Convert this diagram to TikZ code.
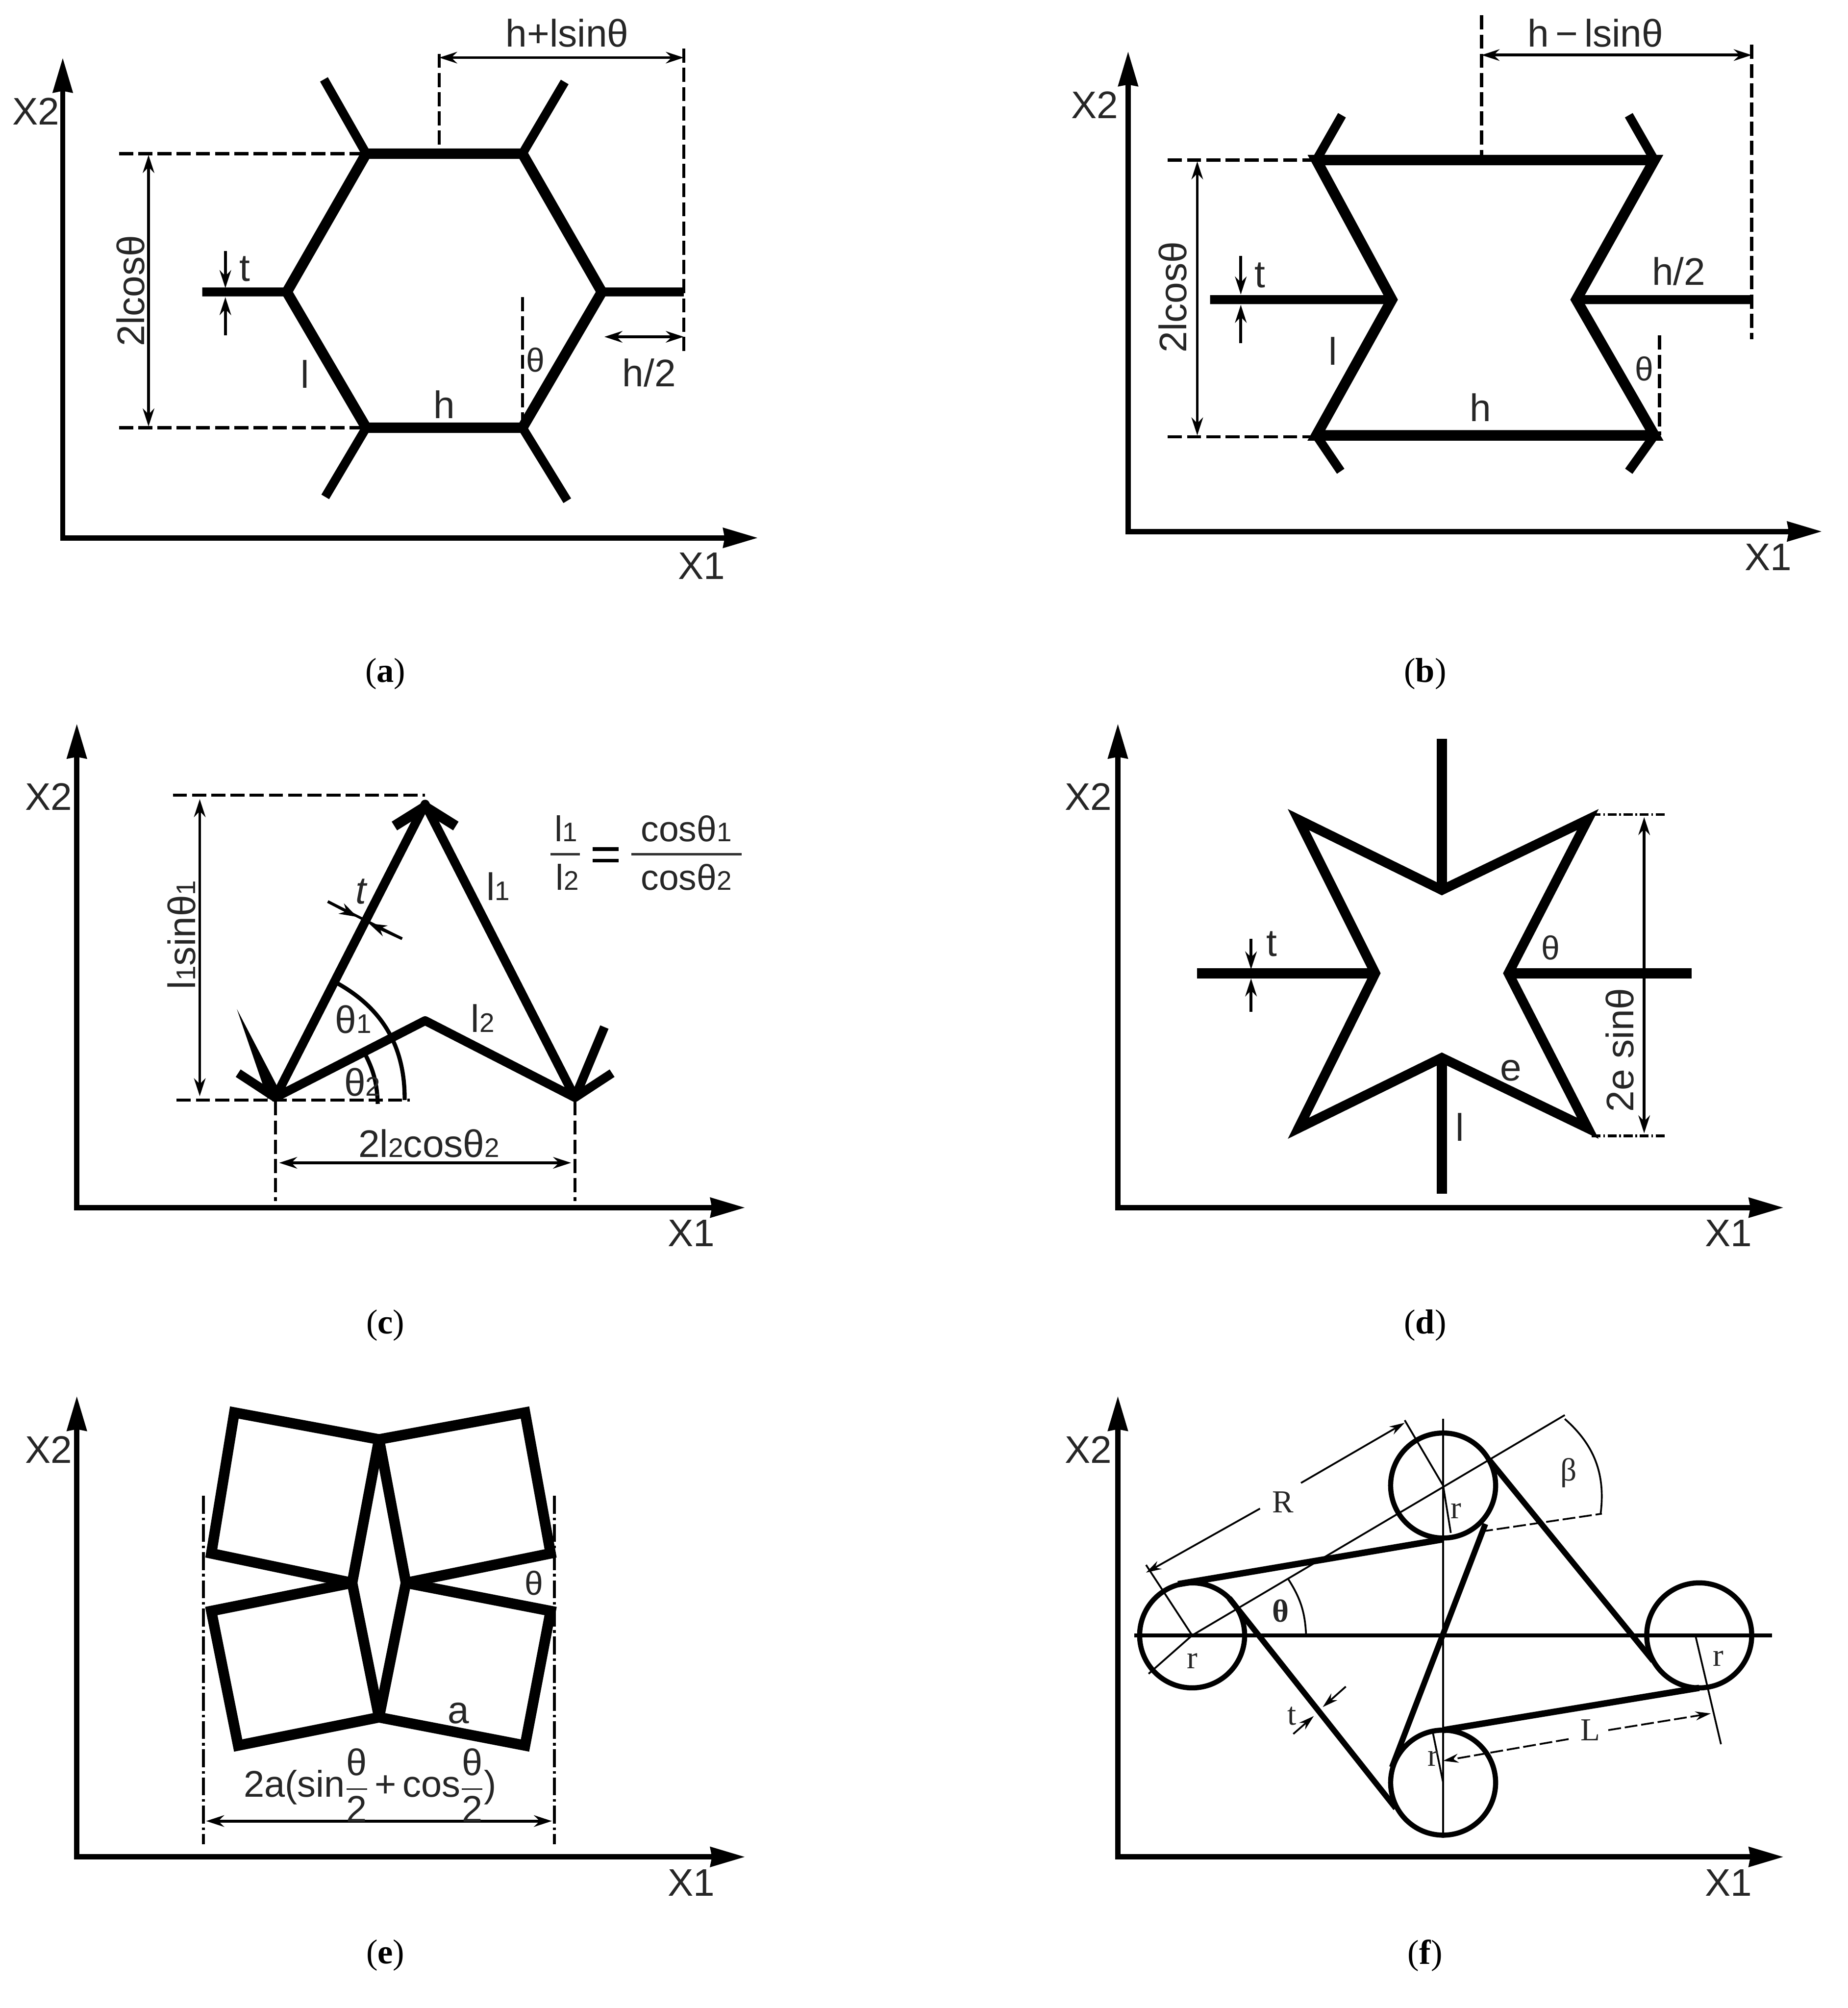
\documentclass[tikz,border=0pt]{standalone}
\usepackage{fontspec}
\setmainfont{Liberation Sans}
\newfontfamily\capfont{Liberation Serif}
\usetikzlibrary{arrows.meta}
\newcommand{\sm}[1]{{\fontsize{21}{21}\selectfont #1}}
\newcommand{\frc}[2]{{\displaystyle{\hbox{#1}\above 1.5pt\hbox{#2}}}}
\tikzset{
 axisline/.style={line width=4.2pt,-{Stealth[length=27pt,width=15pt,inset=1pt]}},
 heavy/.style={line width=8.2pt,miter limit=10},
 stub/.style={line width=7pt},
 heavyc/.style={line width=7pt,line join=round},
 dimline/.style={line width=2.2pt,{Stealth[length=14pt,width=9pt]}-{Stealth[length=14pt,width=9pt]}},
 onearrow/.style={line width=2.2pt,-{Stealth[length=14pt,width=9pt]}},
 thinarrow/.style={line width=1.4pt,-{Stealth[length=12pt,width=7pt]}},
 dashln/.style={line width=2.4pt,dash pattern=on 11pt off 4pt},
 dashdot/.style={line width=2pt,dash pattern=on 7pt off 2pt on 1.5pt off 2pt},
 thinline/.style={line width=1.4pt},
 lab/.style={font=\fontsize{30}{30}\selectfont,inner sep=0pt,text=black!85},
 labs/.style={font=\fontsize{26}{26}\selectfont,inner sep=0pt,text=black!85},
 labf/.style={font=\fontsize{25}{25}\selectfont\capfont,inner sep=0pt,text=black!85},
 caplab/.style={font=\fontsize{27}{27}\selectfont\capfont,inner sep=0pt},
 belt/.style={line width=5pt},
 ring/.style={line width=4pt},
}
\begin{document}
\begin{tikzpicture}[x=1pt,y=-1pt]
\useasboundingbox (0,0) rectangle (1443,1568);
% ---------- (a)
\draw[axisline] (49,422) -- (49,45);
\draw[axisline] (47,420) -- (592,420);
\node[lab] (a2) at (28,87) {X2};
\node[lab] (a1) at (548,442) {X1};
\draw[dashln] (93,120) -- (286,120) (93,334) -- (286,334) (408,232) -- (408,334) (534,38) -- (534,275) (343,42) -- (343,115);
\draw[heavy] (286,120) -- (408,120) -- (470,228) -- (408,334) -- (286,334) -- (224,228) -- cycle;
\draw[stub] (286,120) -- (253,62) (408,120) -- (441,64) (286,334) -- (254,388) (408,334) -- (443,391) (224,228) -- (158,228) (470,228) -- (534,228);
\draw[dimline] (116,121) -- (116,333);
\draw[dimline] (343,45) -- (534,45);
\draw[dimline] (472,263) -- (534,263);
\draw[onearrow] (176,196) -- (176,225);
\draw[onearrow] (176,262) -- (176,232);
\node[lab,rotate=90] (alc) at (102,227) {2lcosθ};
\node[lab] (at) at (191,210) {t};
\node[lab] (al) at (238,292) {l};
\node[lab] (ah) at (347,316) {h};
\node[labs] (ath) at (418,281) {θ};
\node[lab] (ah2) at (507,291) {h/2};
\node[lab] (ahl) at (443,26) {h+lsinθ};
% ---------- (b)
\draw[axisline] (881,417) -- (881,40);
\draw[axisline] (879,415) -- (1423,415);
\node[lab] (b2) at (855,82) {X2};
\node[lab] (b1) at (1381,435) {X1};
\draw[dashln] (912,125) -- (1028,125) (912,341) -- (1028,341) (1296,262) -- (1296,340) (1368,35) -- (1368,265) (1157,12) -- (1157,122);
\draw[heavy] (1028,125) -- (1292,125) -- (1231,234) -- (1292,340) -- (1028,340) -- (1087,234) -- cycle;
\draw[stub] (1028,125) -- (1048,90) (1292,125) -- (1272,90) (1028,340) -- (1047,368) (1292,340) -- (1272,368) (1087,234) -- (945,234) (1231,234) -- (1368,234);
\draw[dimline] (935,126) -- (935,340);
\draw[dimline] (1157,43) -- (1368,43);
\draw[onearrow] (969,200) -- (969,230);
\draw[onearrow] (969,268) -- (969,238);
\node[lab,rotate=90] (blc) at (916,232) {2lcosθ};
\node[lab] (bt) at (984,215) {t};
\node[lab] (bl) at (1041,274) {l};
\node[lab] (bh) at (1156,318) {h};
\node[labs] (bth) at (1284,288) {θ};
\node[lab] (bh2) at (1311,212) {h/2};
\node[lab] (bhl) at (1246,26) {h\,−\,lsinθ};
% ---------- (c)
\draw[axisline] (60,945) -- (60,565);
\draw[axisline] (58,943) -- (582,943);
\node[lab] (c2) at (38,622) {X2};
\node[lab] (c1) at (540,963) {X1};
\draw[dashln] (135,621) -- (332,621) (138,859) -- (320,859) (215,860) -- (215,938) (449,860) -- (449,938);
\draw[heavyc] (215,857) -- (332,628) -- (449,857) -- (332,797) -- cycle;
\draw[heavyc,line width=8pt] (332,630) -- (308,645) (332,630) -- (356,645);
\fill (185,788) -- (209,858) -- (220,855) -- cycle;
\draw[heavyc] (215,857) -- (186,838);
\draw[heavyc] (449,857) -- (472,802);
\draw[heavyc] (449,857) -- (478,838);
\draw[dimline] (156,624) -- (156,856);
\draw[dimline] (218,908) -- (446,908);
\draw[line width=2pt] (256,704) -- (314,733);
\draw[onearrow] (256,704) -- (279,716);
\draw[onearrow] (314,733) -- (288,721);
\draw[line width=3.2pt] (262,767) to[bend left=31] (316,859);
\draw[line width=3.2pt] (284,821) to[bend left=13] (295,862);
\node[lab,rotate=90] (clc) at (142,730) {l\sm{1}sinθ\sm{1}};
\node[lab] (clb) at (335,893) {2l\sm{2}cosθ\sm{2}};
\node[lab,font=\fontsize{30}{30}\selectfont\itshape] (ct) at (282,696) {t};
\node[lab] (cl1) at (389,692) {l\sm{1}};
\node[lab] (cl2) at (377,795) {l\sm{2}};
\node[lab] (cth1) at (276,796) {θ\sm{1}};
\node[lab] (cth2) at (283,845) {θ\sm{2}};
\node[lab,font=\fontsize{28}{28}\selectfont,anchor=base] (cfa) at (442,657) {l\sm{1}};
\node[lab,font=\fontsize{28}{28}\selectfont,anchor=base] (cfb) at (443,695) {l\sm{2}};
\node[lab,font=\fontsize{28}{28}\selectfont,anchor=base] (cfc) at (536,657) {cosθ\sm{1}};
\node[lab,font=\fontsize{28}{28}\selectfont,anchor=base] (cfd) at (536,695) {cosθ\sm{2}};
\draw[line width=2pt,black!80] (430,667) -- (453,667);
\draw[line width=2pt,black!80] (493,667) -- (579,667);
\draw[line width=3pt] (463,663) -- (483,663) (463,672) -- (483,672);
% ---------- (d)
\draw[axisline] (873,945) -- (873,565);
\draw[axisline] (871,943) -- (1393,943);
\node[lab] (d2) at (850,622) {X2};
\node[lab] (d1) at (1350,963) {X1};
\draw[heavy,line width=7.5pt] (1126,695) -- (1240,640) -- (1178,760) -- (1240,881) -- (1126,826) -- (1014,881) -- (1074,760) -- (1014,640) -- cycle;
\draw[stub,line width=8pt] (1126,695) -- (1126,577) (1126,826) -- (1126,932) (1074,760) -- (935,760) (1178,760) -- (1321,760);
\draw[dashdot] (1243,636) -- (1300,636) (1243,887) -- (1300,887);
\draw[dimline] (1284,638) -- (1284,885);
\draw[onearrow] (977,733) -- (977,757);
\draw[onearrow] (977,790) -- (977,764);
\node[lab] (dt) at (993,737) {t};
\node[labs] (dth) at (1211,740) {θ};
\node[lab] (de) at (1180,836) {e};
\node[lab] (dl) at (1140,880) {l};
\node[lab,rotate=90] (dlc) at (1265,820) {2e sinθ};
% ---------- (e)
\draw[axisline] (60,1452) -- (60,1090);
\draw[axisline] (58,1450) -- (582,1450);
\node[lab] (e2) at (38,1132) {X2};
\node[lab] (e1) at (540,1470) {X1};
\draw[heavy] (183,1103) -- (296,1124) -- (275,1236) -- (165,1213) -- cycle;
\draw[heavy] (296,1124) -- (410,1103) -- (430,1213) -- (317,1236) -- cycle;
\draw[heavy] (275,1236) -- (165,1258) -- (186,1363) -- (296,1341) -- cycle;
\draw[heavy] (317,1236) -- (430,1258) -- (410,1363) -- (296,1341) -- cycle;
\draw[dashln,dash pattern=on 14pt off 3pt on 2pt off 3pt] (159,1168) -- (159,1440) (433,1168) -- (433,1440);
\draw[dimline] (161,1422) -- (431,1422);
\node[labs] (eth) at (417,1236) {θ};
\node[lab] (ea) at (358,1338) {a};
\node[lab,font=\fontsize{29}{29}\selectfont] (ef) at (289,1394) {2a(sin$\frc{θ}{2}$\,+\,cos$\frc{θ}{2}$)};
% ---------- (f)
\draw[axisline] (873,1452) -- (873,1090);
\draw[axisline] (871,1450) -- (1393,1450);
\node[lab] (f2) at (850,1132) {X2};
\node[lab] (f1) at (1350,1470) {X1};
\coordinate (cl) at (931,1277);
\coordinate (ct0) at (1127,1160);
\coordinate (cr) at (1327,1277);
\coordinate (cb) at (1127,1392);
\draw[line width=3pt] (886,1277) -- (1384,1277);
\draw[thinline] (1127,1108) -- (1127,1435);
\draw[ring] (cl) circle[radius=41pt] (ct0) circle[radius=41pt] (cr) circle[radius=41pt] (cb) circle[radius=41pt];
\draw[belt] (920,1237) -- (1127,1202);
\draw[belt] (1127,1351) -- (1327,1318);
\draw[belt,line width=4.5pt] (960,1248) -- (1090,1412);
\draw[belt,line width=4.5pt] (1163,1140) -- (1291,1297);
\draw[belt,line width=4.5pt] (1160,1190) -- (1087,1380);
\draw[thinline] (895,1222) -- (931,1277) -- (897,1307);
\draw[thinline] (1097,1109) -- (1127,1160) -- (1133,1197);
\draw[thinline] (931,1277) -- (1222,1105);
\draw[thinline] (1324,1277) -- (1344,1362);
\draw[thinline] (1119,1353) -- (1127,1392);
\draw[thinline] (1222,1108) to[bend left=28] (1250,1182);
\draw[thinline] (1006,1233) to[bend left=15] (1020,1277);
\draw[thinline,dash pattern=on 10pt off 3pt] (1156,1196) -- (1251,1182);
\draw[thinarrow] (984,1178) -- (895,1228);
\draw[thinarrow] (1016,1158) -- (1097,1111);
\draw[thinarrow,dash pattern=on 10pt off 3pt] (1225,1358) -- (1127,1375);
\draw[thinarrow,dash pattern=on 10pt off 3pt] (1256,1351) -- (1336,1338);
\draw[thinarrow] (1051,1317) -- (1033,1333);
\draw[thinarrow] (1010,1354) -- (1026,1340);
\node[labf] (fR) at (1002,1173) {R};
\node[labf] (fb) at (1225,1150) {β};
\node[labf] (fth) at (1000,1258) {\bfseries θ};
\node[labf] (fr1) at (1137,1180) {r};
\node[labf] (fr2) at (931,1297) {r};
\node[labf] (fr3) at (1342,1295) {r};
\node[labf] (fr4) at (1119,1373) {r};
\node[labf] (ft) at (1009,1340) {t};
\node[labf] (fL) at (1242,1351) {L};
% ---------- captions
\node[caplab] (capa) at (301,526) {(\textbf{a})};
\node[caplab] (capb) at (1113,526) {(\textbf{b})};
\node[caplab] (capc) at (301,1035) {(\textbf{c})};
\node[caplab] (capd) at (1113,1035) {(\textbf{d})};
\node[caplab] (cape) at (301,1527) {(\textbf{e})};
\node[caplab] (capf) at (1113,1527) {(\textbf{f})};
\end{tikzpicture}
\end{document}
